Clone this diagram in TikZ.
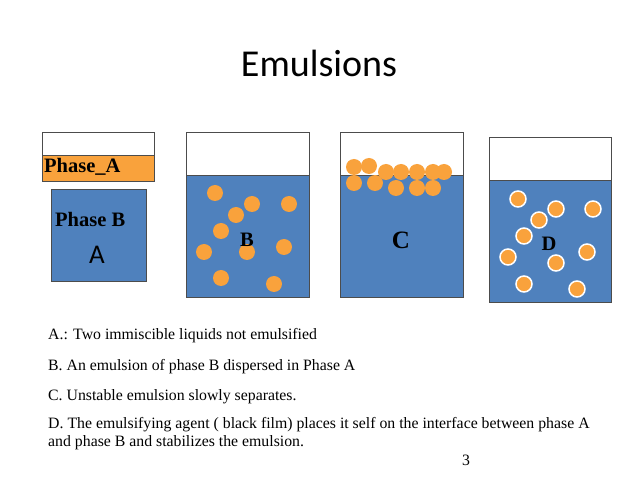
\documentclass[tikz,border=0pt]{standalone}
\usepackage{fontspec}
\setmainfont{Liberation Serif}
\newfontfamily\carl{Carlito}
\begin{document}
\begin{tikzpicture}[x=1pt,y=-1pt,
 water/.style={draw=black!70, line width=0.8pt},
 box/.style={draw=black!70, line width=0.8pt, fill=white},
 drop/.style={circle, minimum size=16pt, inner sep=0pt},
 sdrop/.style={drop, draw=white, line width=1.5pt},
 lab/.style={font=\bfseries\fontsize{20.5}{20}\selectfont},
 txt/.style={anchor=west, inner sep=0pt, font=\fontsize{15.8}{17}\selectfont}]
\definecolor{wat}{HTML}{4F81BD}\definecolor{org}{HTML}{F9A23C}
\tikzset{water/.append style={fill=wat}, drop/.append style={fill=org}}
\useasboundingbox (0,0) rectangle (638,478);
\node[font=\carl\fontsize{38}{38}\selectfont] (title) at (319,63) {Emulsions};
% A
\draw[box] (42,132) rectangle (154,155);
\draw[draw=black!70, line width=0.8pt, fill=org] (42,155) rectangle (154,181);
\node[lab, anchor=west, inner sep=0pt] (pa) at (44,167) {Phase\_A};
\draw[water] (51,189) rectangle (146,281);
\node[lab, anchor=west, inner sep=0pt] (pb) at (55,219) {Phase B};
\node[font=\carl\fontsize{27}{27}\selectfont] (a) at (97,255) {A};
% B
\draw[box] (186,132) rectangle (309,297);
\draw[water] (186,175) rectangle (309,297);
\foreach \x/\y [count=\i] in {215/193,252/204,289/204,236/215,221/231,204/252,247/252,284/247,221/278,274/284}
  \node[drop] (b\i) at (\x,\y) {};
\node[lab] (bl) at (247,240) {B};
% C
\draw[box] (340,132) rectangle (463,297);
\draw[water] (340,175) rectangle (463,297);
\foreach \x/\y [count=\i] in {354/167,369/166,386/172,401/172,417/172,433/172,444/172,354/183,375/183,396/188,417/188,433/188}
  \node[drop] (c\i) at (\x,\y) {};
\node[lab, font=\bfseries\fontsize{25}{25}\selectfont] (cl) at (401,240) {C};
% D
\draw[box] (489,137) rectangle (611,302);
\draw[water] (489,180) rectangle (611,302);
\foreach \x/\y [count=\i] in {518/199,556/209,593/209,539/220,524/236,508/257,556/263,587/252,524/284,577/289}
  \node[sdrop] (d\i) at (\x,\y) {};
\node[lab] (dl) at (549,244) {D};
% text
\node[txt] (t1) at (48,336) {A.: Two immiscible liquids not emulsified};
\node[txt] (t2) at (48,367) {B. An emulsion of phase B dispersed in Phase A};
\node[txt] (t3) at (48,397) {C. Unstable emulsion slowly separates.};
\node[txt] (t4) at (48,425) {D. The emulsifying agent ( black film) places it self on the interface between phase A};
\node[txt] (t5) at (48,443) {and phase B and stabilizes the emulsion.};
\node[font=\fontsize{15.8}{17}\selectfont] (pg) at (466,460) {3};
\end{tikzpicture}
\end{document}
